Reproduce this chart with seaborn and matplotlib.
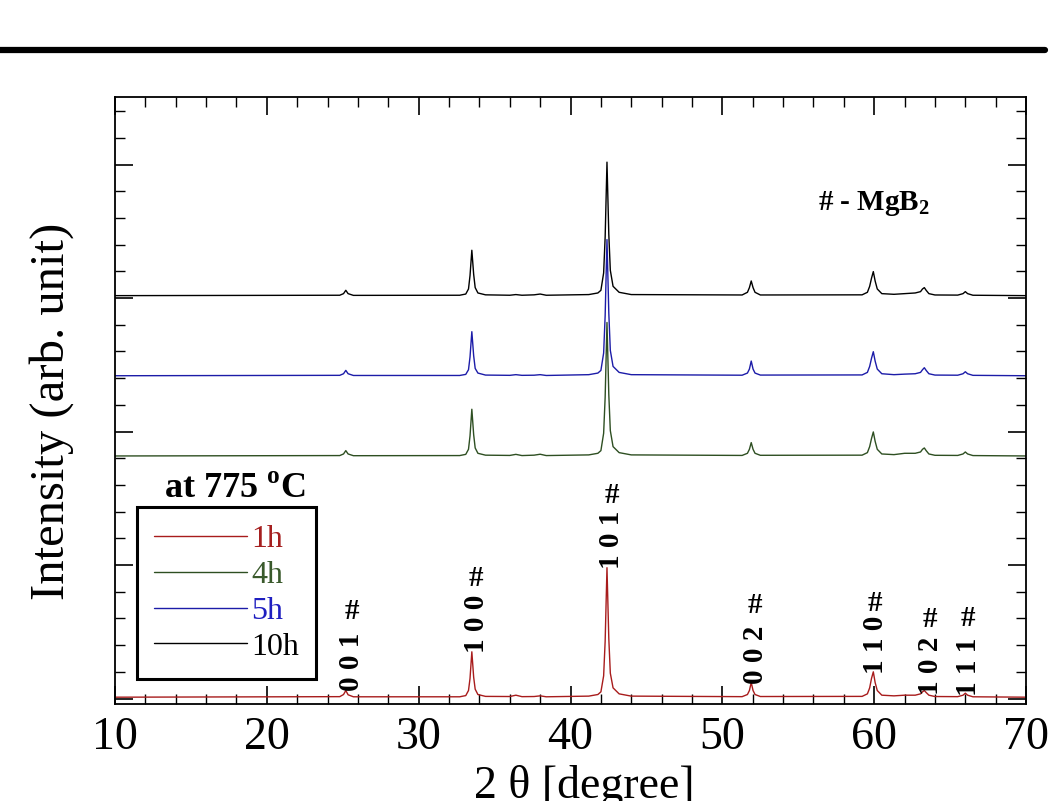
import numpy as np
import pandas as pd
import matplotlib
matplotlib.use('Agg')
import matplotlib.pyplot as plt
import seaborn as sns
from matplotlib.lines import Line2D
from matplotlib.ticker import MultipleLocator

# XRD 패턴 (MgB2, 775 oC 열처리 시간별)
two_theta = [
    10.0, 24.8, 25.05, 25.2, 25.35, 25.7,
    32.7, 33.1, 33.28, 33.38, 33.5, 33.62, 33.72, 33.9, 34.4,
    36.0, 36.4, 36.8, 37.6, 38.0, 38.4,
    41.2, 41.8, 42.0, 42.18, 42.28, 42.4, 42.52, 42.62, 42.8, 43.2, 44.0,
    51.3, 51.65, 51.78, 51.9, 52.02, 52.15, 52.5,
    59.2, 59.55, 59.7, 59.82, 59.94, 60.06, 60.2, 60.5,
    61.3, 62.0, 62.7, 63.05, 63.18, 63.3, 63.42, 63.6, 64.0,
    65.5, 65.85, 66.0, 66.15, 66.5, 70.0,
]

int_1h = [
    0, 0.4, 2, 5, 1.8, 0.3,
    0.3, 1.2, 5, 14, 34, 15, 6, 2, 0.6,
    0.5, 1.5, 0.4, 0.5, 1.0, 0.3,
    0.8, 2, 4, 16, 42, 97, 44, 18, 7, 2.5, 0.8,
    0.4, 2, 5, 11, 5, 2, 0.5,
    0.6, 2.5, 7, 14, 19, 11, 5, 1.5,
    1.0, 1.5, 1.5, 2.5, 4, 5, 3.5, 1.5, 0.5,
    0.4, 1.5, 3, 1.5, 0.3, 0,
]
int_4h = [
    0, 0.3, 1.5, 4, 1.5, 0.2,
    0.3, 1.2, 5, 15, 35, 16, 6, 2, 0.6,
    0.4, 1.2, 0.3, 0.6, 1.3, 0.3,
    0.8, 2, 4, 17, 44, 100, 46, 19, 7, 2.5, 0.8,
    0.4, 2, 5, 10, 5, 2, 0.5,
    0.6, 2.5, 7, 13, 18, 11, 5, 1.5,
    1.0, 2, 2, 3, 5, 6, 4, 1.5, 0.5,
    0.4, 1.5, 3, 1.5, 0.3, 0,
]
int_5h = [
    0, 0.3, 1.5, 4, 1.5, 0.2,
    0.2, 1.0, 4.5, 14, 33, 15, 5.5, 2, 0.5,
    0.3, 0.8, 0.3, 0.4, 0.8, 0.2,
    0.8, 2, 4, 17, 45, 102, 47, 19, 7, 2.5, 0.8,
    0.4, 2, 5, 11, 5, 2, 0.5,
    0.6, 2.5, 7, 13, 18, 11, 5, 1.5,
    0.8, 1.2, 1.5, 2.5, 4.5, 6, 4, 1.5, 0.5,
    0.4, 1.5, 3, 1.5, 0.3, 0,
]
int_10h = [
    0, 0.3, 1.5, 4, 1.5, 0.2,
    0.3, 1.2, 5, 15, 34, 16, 6, 2, 0.6,
    0.3, 0.8, 0.3, 0.6, 1.2, 0.3,
    0.8, 2, 4, 17, 44, 100, 46, 19, 7, 2.5, 0.8,
    0.5, 2.5, 6, 11, 6, 2.5, 0.5,
    0.6, 2.5, 7, 13, 18, 11, 5, 1.5,
    1.0, 1.5, 2, 3, 5, 6, 4, 1.5, 0.5,
    0.4, 1.5, 3, 1.5, 0.3, 0,
]

samples = ['1h', '4h', '5h', '10h']
intensities = [int_1h, int_4h, int_5h, int_10h]
offsets = [1.0, 181.7, 241.8, 301.8]   # 세로로 쌓기

colors = ['#a81c1c', '#2e4f22', '#1c1ca8', '#000000']
text_colors = ['#a51f1f', '#3a5a2c', '#1f1fc0', '#000000']

hkl_labels = ['0 0 1', '1 0 0', '1 0 1', '0 0 2', '1 1 0', '1 0 2', '1 1 1']
hkl_x = [25.6, 33.78, 42.73, 52.15, 60.06, 63.68, 66.18]
hkl_y = [6.0, 34, 97, 11.0, 18.5, 2.4, 2.0]
hash_y = [65, 90, 152, 70, 71, 59, 60]

frames = []
for s, vals, off in zip(samples, intensities, offsets):
    frames.append(pd.DataFrame({
        'two_theta': two_theta,
        'intensity': np.array(vals) + off,
        'sample': s,
    }))
df = pd.concat(frames, ignore_index=True)

sns.set_style('ticks')
plt.rcParams['font.family'] = ['Liberation Serif', 'DejaVu Serif']
plt.rcParams['mathtext.fontset'] = 'custom'
plt.rcParams['mathtext.rm'] = 'Liberation Serif'
plt.rcParams['mathtext.bf'] = 'Liberation Serif:bold'
plt.rcParams['text.color'] = 'black'
plt.rcParams['axes.labelcolor'] = 'black'
plt.rcParams['xtick.color'] = 'black'
plt.rcParams['ytick.color'] = 'black'
plt.rcParams['axes.edgecolor'] = 'black'

fig = plt.figure(figsize=(10.59, 8.01), dpi=100)
ax = fig.add_axes([0.1086, 0.1211, 0.8603, 0.7578])

sns.lineplot(data=df, x='two_theta', y='intensity', hue='sample',
             hue_order=samples, palette=dict(zip(samples, colors)),
             estimator=None, sort=False, linewidth=1.0, ax=ax, legend=False)

ax.set_xlim(10, 70)
ax.set_ylim(-4.1, 450.6)
ax.xaxis.set_major_locator(MultipleLocator(10))
ax.xaxis.set_minor_locator(MultipleLocator(2))
ax.yaxis.set_major_locator(MultipleLocator(100))
ax.yaxis.set_minor_locator(MultipleLocator(20))
ax.tick_params(which='major', direction='in', length=13, width=1.2,
               top=True, right=True, labelsize=33, pad=9)
ax.tick_params(which='minor', direction='in', length=7, width=1.0,
               top=True, right=True)
ax.tick_params(axis='y', which='both', labelleft=False)
for sp in ax.spines.values():
    sp.set_linewidth(1.3)

ax.set_xlabel('2 θ [degree]', fontsize=33)
ax.set_ylabel('Intensity (arb. unit)', fontsize=35)
ax.xaxis.set_label_coords(0.515, -0.1005)
ax.yaxis.set_label_coords(-0.045, 0.482)

# 피크 지수
for lab, x, y, hy in zip(hkl_labels, hkl_x, hkl_y, hash_y):
    ax.text(x, y, lab, rotation=90, ha='center', va='bottom',
            fontsize=21, fontweight='bold')
    ax.text(x, hy, '#', ha='center', va='center', fontsize=21, fontweight='bold')

ax.text(56.3, 371, r'# - MgB$_{\mathbf{2}}$', ha='left', va='center',
        fontsize=21, fontweight='bold')
ax.text(17.9, 157, r'at 775 $^{\mathbf{o}}$C', ha='center', va='center',
        fontsize=26, fontweight='bold')

handles = [Line2D([], [], color=c, lw=1.0) for c in colors]
leg = ax.legend(handles, samples, loc='lower left', bbox_to_anchor=(0.024, 0.041),
                borderaxespad=0, frameon=True, fancybox=False, edgecolor='black',
                framealpha=1, fontsize=23, handlelength=2.9, handletextpad=0.12,
                labelspacing=0.2, borderpad=0.55)
leg.get_frame().set_linewidth(2.2)
for t, c in zip(leg.get_texts(), text_colors):
    t.set_color(c)

# 위쪽 굵은 선
fig.add_artist(Line2D([0, 0.987], [0.9376, 0.9376], transform=fig.transFigure,
                      color='black', lw=4.5))

fig.savefig('out.png', dpi=100)
